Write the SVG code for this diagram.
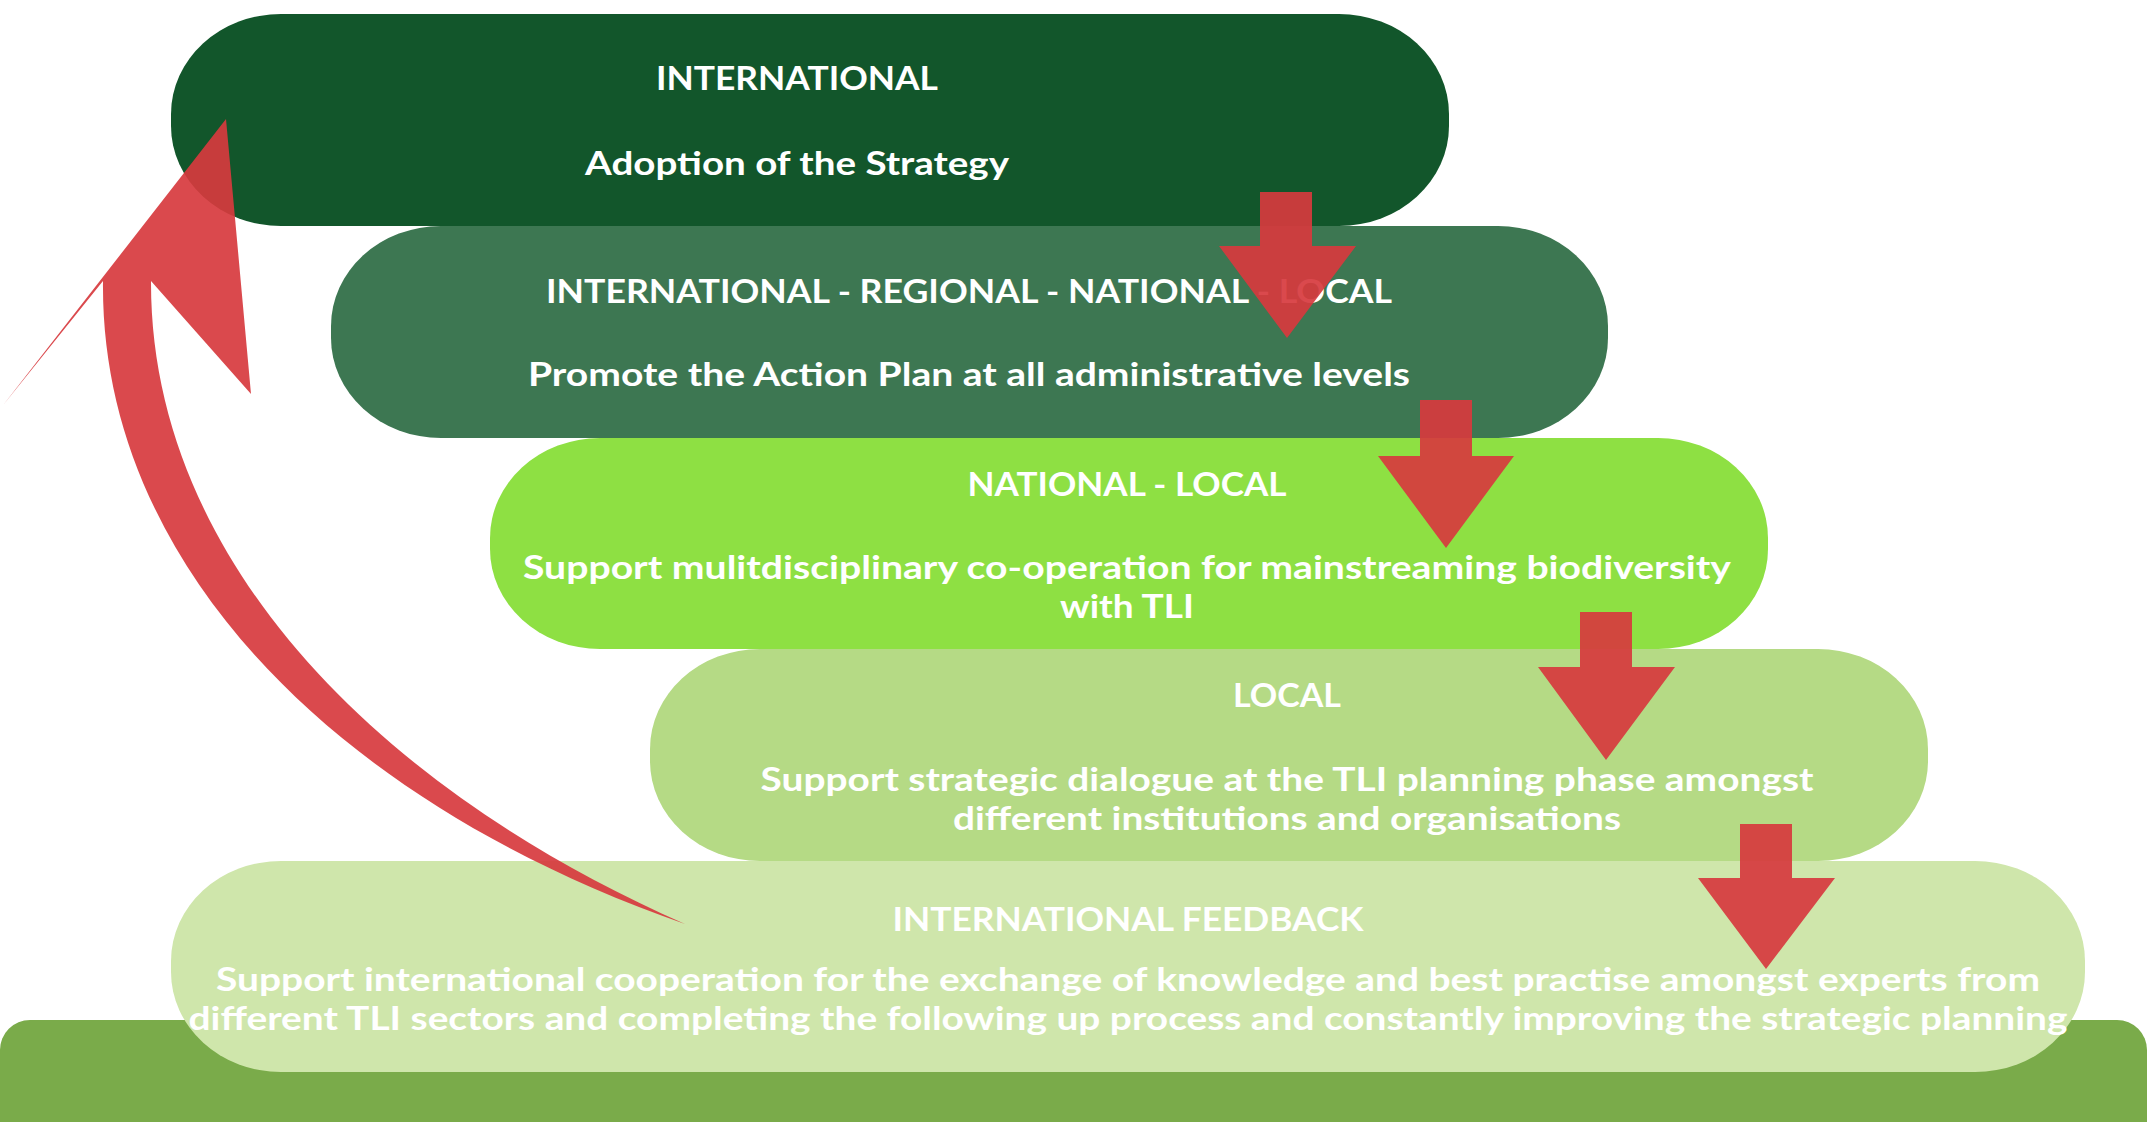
<svg xmlns="http://www.w3.org/2000/svg" width="2147" height="1122" viewBox="0 0 2147 1122">
<style>
text{font-family:Lato,"Open Sans","Liberation Sans",sans-serif;font-weight:bold;fill:#fff;font-size:33px;text-anchor:middle}
.arr{fill:#d7393e;fill-opacity:0.92}
</style>
<rect x="0" y="1020" width="2147" height="102" rx="30" ry="30" fill="#7aab4a"/>
<rect x="0" y="1050" width="2147" height="72" fill="#7aab4a"/>
<g id="n5"><rect x="171" y="861" width="1914" height="211" rx="110" ry="100" fill="#cfe6ab"/>
<text x="1128" y="931" textLength="471" lengthAdjust="spacingAndGlyphs">INTERNATIONAL FEEDBACK</text>
<text x="1128" y="991" textLength="1824" lengthAdjust="spacingAndGlyphs">Support international cooperation for the exchange of knowledge and best practise amongst experts from</text>
<text x="1128" y="1030" textLength="1879" lengthAdjust="spacingAndGlyphs">different TLI sectors and completing the following up process and constantly improving the strategic planning</text></g>
<g id="n4"><rect x="650" y="649" width="1278" height="212" rx="110" ry="100" fill="#b5da85"/>
<text x="1287" y="707" textLength="108" lengthAdjust="spacingAndGlyphs">LOCAL</text>
<text x="1287" y="791" textLength="1053" lengthAdjust="spacingAndGlyphs">Support strategic dialogue at the TLI planning phase amongst</text>
<text x="1287" y="830" textLength="668" lengthAdjust="spacingAndGlyphs">different institutions and organisations</text></g>
<g id="n3"><rect x="490" y="438" width="1278" height="211" rx="110" ry="100" fill="#8ee043"/>
<text x="1127" y="496" textLength="319" lengthAdjust="spacingAndGlyphs">NATIONAL - LOCAL</text>
<text x="1127" y="579" textLength="1208" lengthAdjust="spacingAndGlyphs">Support mulitdisciplinary co-operation for mainstreaming biodiversity</text>
<text x="1127" y="618" textLength="134" lengthAdjust="spacingAndGlyphs">with TLI</text></g>
<g id="n2"><rect x="331" y="226" width="1277" height="212" rx="110" ry="100" fill="#3d7752"/>
<text x="969" y="303" textLength="846" lengthAdjust="spacingAndGlyphs">INTERNATIONAL - REGIONAL - NATIONAL - LOCAL</text>
<text x="969" y="386" textLength="882" lengthAdjust="spacingAndGlyphs">Promote the Action Plan at all administrative levels</text></g>
<g id="n1"><rect x="171" y="14" width="1278" height="212" rx="110" ry="100" fill="#12562b"/>
<text x="797" y="90" textLength="282" lengthAdjust="spacingAndGlyphs">INTERNATIONAL</text>
<text x="797" y="175" textLength="424" lengthAdjust="spacingAndGlyphs">Adoption of the Strategy</text></g>
<g id="connectors">
<polygon class="arr" points="1260,192 1312,192 1312,246 1356,246 1287,338 1219,246 1260,246"/>
<polygon class="arr" points="1420,400 1472,400 1472,456 1514,456 1446,548 1378,456 1420,456"/>
<polygon class="arr" points="1580,612 1632,612 1632,667 1675,667 1606,760 1538,667 1580,667"/>
<polygon class="arr" points="1740,824 1792,824 1792,878 1835,878 1766,969 1698,878 1740,878"/>
<path class="arr" d="M685,924 C380,790 150,560 151,281 L251,394 L226,119 L4,404 L103,281 C100,560 330,800 685,924 Z"/>
</g>
</svg>
